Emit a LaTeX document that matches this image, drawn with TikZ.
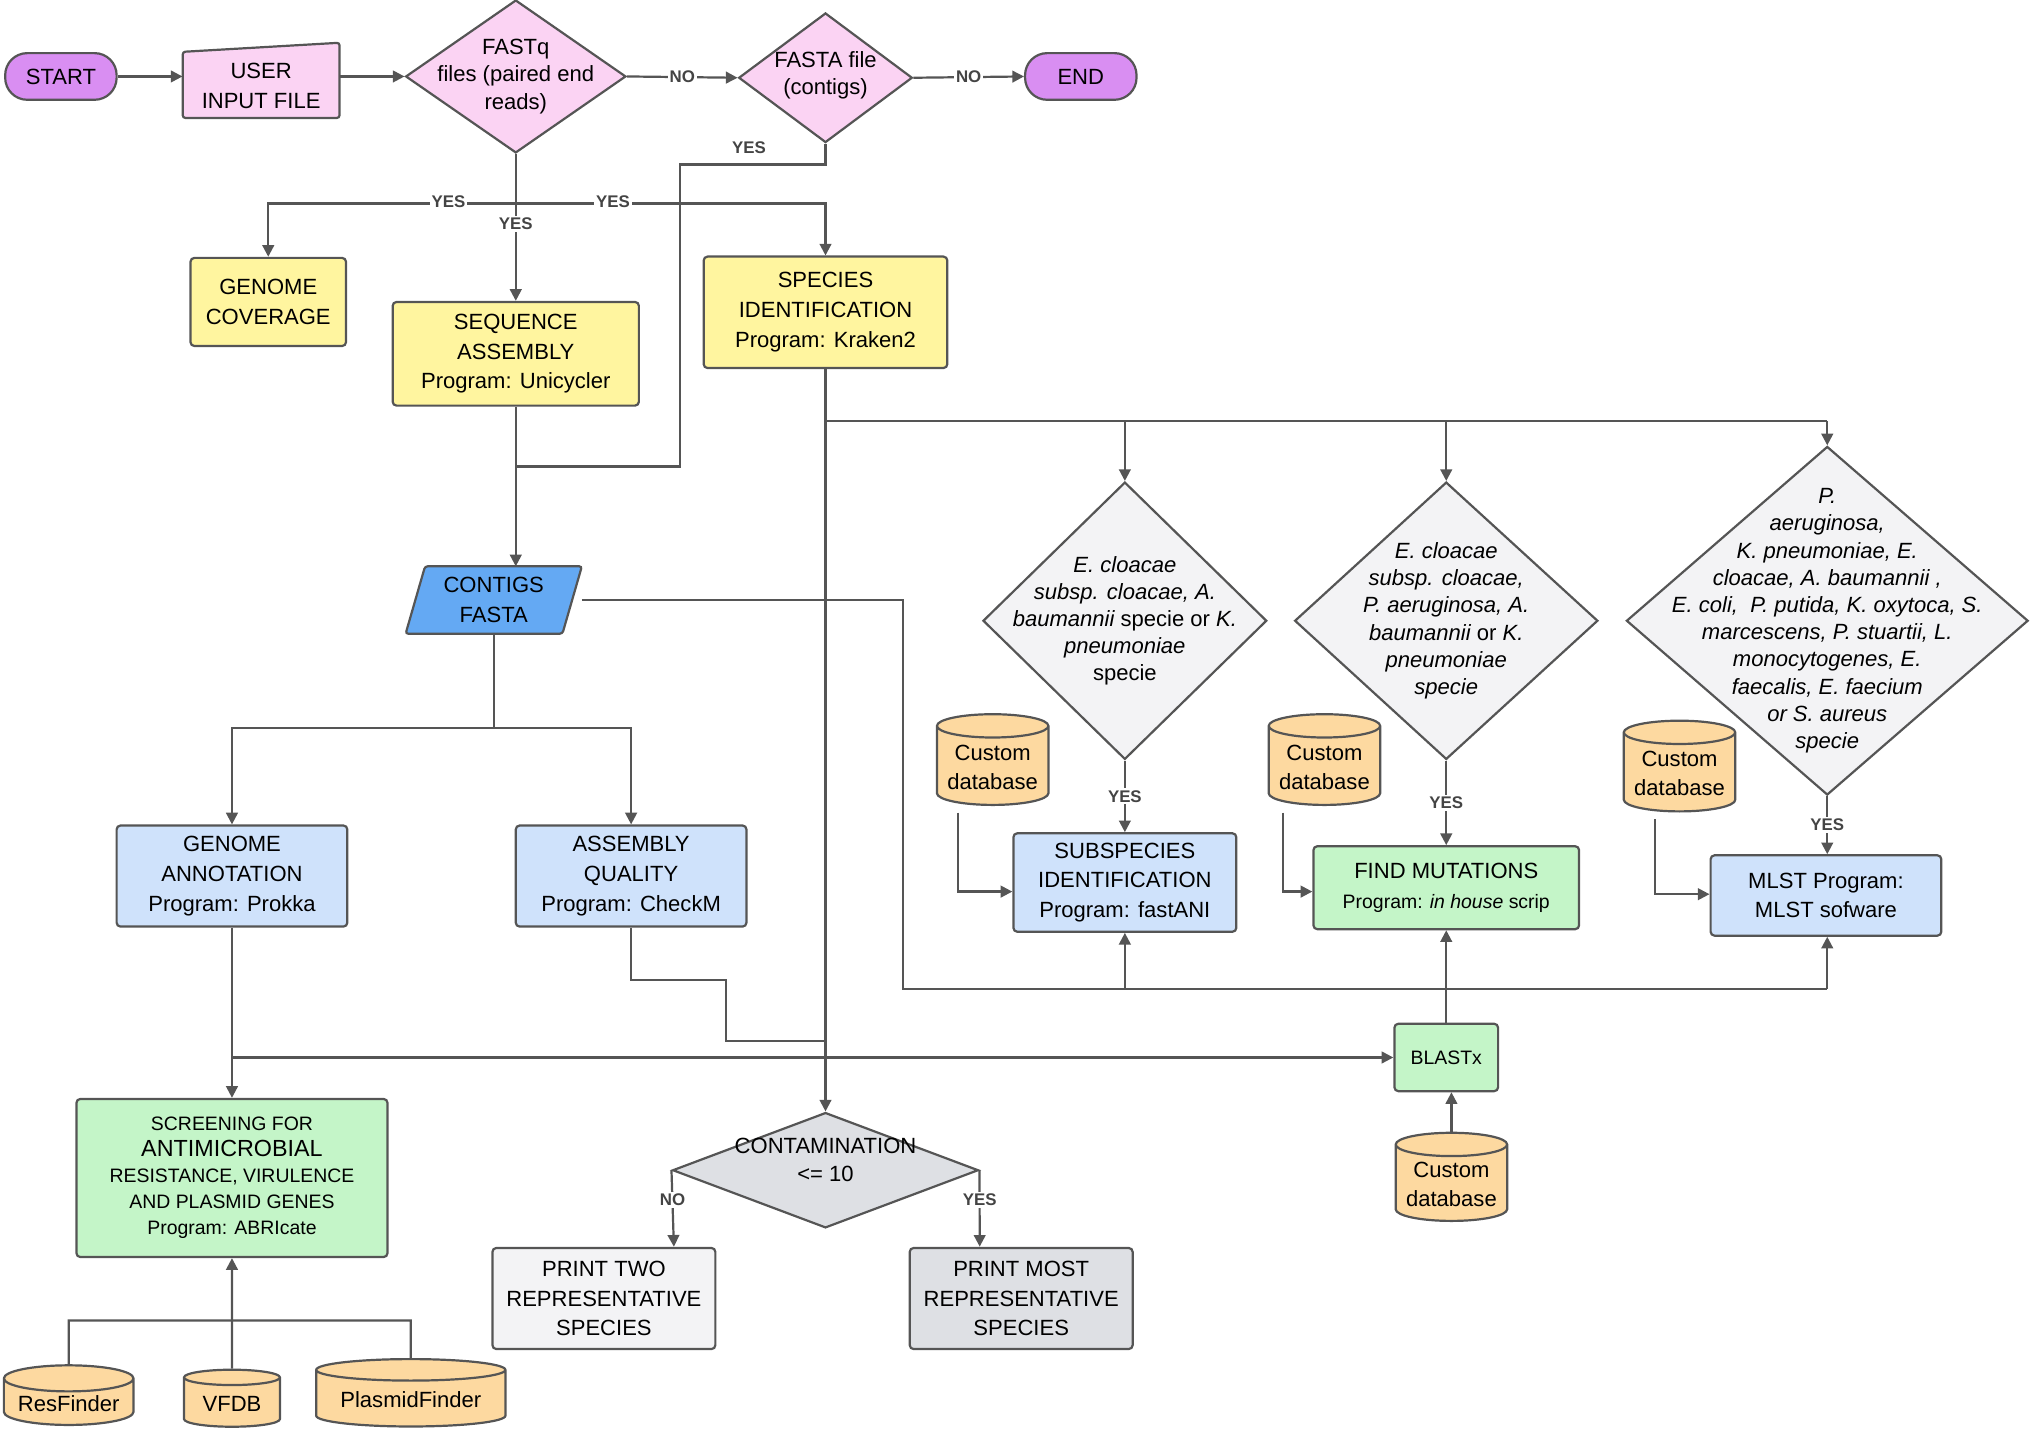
\documentclass[tikz,border=0pt]{standalone}
\usepackage{fontspec}
\setmainfont{Liberation Sans}
\usetikzlibrary{shapes.geometric,arrows.meta}
\definecolor{lc}{HTML}{555555}
\definecolor{pur}{HTML}{D98EF2}
\definecolor{pink}{HTML}{FBD3F3}
\definecolor{yel}{HTML}{FFF59F}
\definecolor{lblue}{HTML}{CFE2FB}
\definecolor{dblue}{HTML}{64A9F3}
\definecolor{grn}{HTML}{C4F5C8}
\definecolor{org}{HTML}{FDD9A0}
\definecolor{lgray}{HTML}{F3F3F5}
\definecolor{mgray}{HTML}{DEE0E4}
\tikzset{
 ln/.style={draw=lc,line width=1.7pt},
 arr/.style={ln,-{Triangle[length=9pt,width=9pt]}},
 box/.style={ln,rounded corners=3pt,align=center,inner sep=2pt,font=\fontsize{17}{23}\selectfont},
 dia/.style={ln,diamond,inner sep=0pt},
 dtxt/.style={align=center,font=\fontsize{17}{21}\selectfont},
 db/.style={ln,cylinder,shape border rotate=90,aspect=0.25,fill=org,align=center,font=\fontsize{17}{22}\selectfont,inner sep=1pt},
 lab/.style={fill=white,inner sep=1.5pt,font=\bfseries\fontsize{13}{15}\selectfont,text=lc!80!black},
}
\begin{document}
\begin{tikzpicture}[x=1pt,y=-1pt]
\useasboundingbox (0,0) rectangle (1568,1110);
% top row
\node[box,rounded corners=17pt,fill=pur,minimum width=86,minimum height=36] (start) at (47,59) {START};
\node[box,rounded corners=17pt,fill=pur,minimum width=86,minimum height=36] (end) at (834,59) {END};
\draw[ln,fill=pink,rounded corners=2pt] (141,40) -- (262,33) -- (262,91) -- (141,91) -- cycle;
\node[align=center,font=\fontsize{17}{23}\selectfont,minimum width=121,minimum height=58] (user) at (201.5,66) {USER\\INPUT FILE};
\node[dia,fill=pink,minimum width=170,minimum height=118] (fq) at (398,59) {};
\node[dtxt] at (398,59) {FASTq\\files (paired end\\reads)};
\node[dia,fill=pink,minimum width=134,minimum height=100] (fa) at (637,60) {};
\node[dtxt] at (637,58) {FASTA file\\(contigs)};
\draw[arr] (start) -- (user.west|-start);
\draw[arr] (262,59) -- (fq.west);
\draw[arr] (fq.east) -- node[lab]{NO} (fa.west);
\draw[arr] (fa.east) -- node[lab]{NO} (end.west);
% second row
\node[box,fill=yel,minimum width=120,minimum height=68] (gc) at (207,233) {GENOME\\COVERAGE};
\node[box,fill=yel,minimum width=190,minimum height=80] (sa) at (398,273) {SEQUENCE\\ASSEMBLY\\Program: Unicycler};
\node[box,fill=yel,minimum width=188,minimum height=86] (si) at (637,241) {SPECIES\\IDENTIFICATION\\Program: Kraken2};
\coordinate (j1) at (398,157);
\draw[ln] (fq.south) -- (j1);
\draw[arr] (j1) -| (gc.north);
\draw[arr] (j1) -| (si.north);
\draw[arr] (j1) -- (sa.north);
\node[lab] at (346,156) {YES};
\node[lab] at (473,156) {YES};
\node[lab] at (398,173) {YES};
% contigs
\draw[ln,fill=dblue,rounded corners=2pt] (328,437) -- (449,437) -- (434,489) -- (313,489) -- cycle;
\node[align=center,font=\fontsize{17}{23}\selectfont,minimum width=136,minimum height=52] (cf) at (381,463) {CONTIGS\\FASTA};
\draw[arr] (sa.south) -- (398,437);
\draw[ln] (fa.south) -- (637,127) -- (525,127) -- (525,360) -- (398,360);
\node[lab] at (578,114) {YES};
% diamonds
\node[dia,fill=lgray,minimum width=219,minimum height=214] (d1) at (868,479) {};
\node[dtxt] at (868,479) {\itshape E. cloacae\\\itshape subsp. cloacae, A.\\\itshape baumannii \upshape specie or \itshape K.\\\itshape pneumoniae\\specie};
\node[dia,fill=lgray,minimum width=234,minimum height=214] (d2) at (1116,479) {};
\node[dtxt] at (1116,479) {\itshape E. cloacae\\\itshape subsp. cloacae,\\\itshape P. aeruginosa, A.\\\itshape baumannii \upshape or \itshape K.\\\itshape pneumoniae\\\itshape specie};
\node[dia,fill=lgray,minimum width=310,minimum height=269] (d3) at (1410,479) {};
\node[dtxt] at (1410,479) {\itshape P.\\\itshape aeruginosa,\\\itshape K. pneumoniae, E.\\\itshape cloacae, A. baumannii ,\\\itshape E. coli,\ \ P. putida, K. oxytoca, S.\\\itshape marcescens, P. stuartii, L.\\\itshape monocytogenes, E.\\\itshape faecalis, E. faecium\\\itshape or S. aureus\\\itshape specie};
\coordinate (j2) at (637,325);
\draw[ln] (si.south) -- (637,828);
\draw[ln] (j2) -- (1410,325);
\draw[arr] (868,325) -- (d1.north);
\draw[arr] (1116,325) -- (d2.north);
\draw[arr] (1410,325) -- (d3.north);
% results
\node[box,fill=lblue,minimum width=172,minimum height=76] (sub) at (868,681) {SUBSPECIES\\IDENTIFICATION\\Program: fastANI};
\node[box,fill=grn,minimum width=205,minimum height=64] (fm) at (1116,685) {FIND MUTATIONS\\{\fontsize{15}{19}\selectfont Program: \itshape in house \upshape scrip}};
\node[box,fill=lblue,minimum width=178,minimum height=62] (mlst) at (1409,691) {MLST Program:\\MLST sofware};
\draw[arr] (d1.south) -- node[lab]{YES} (sub.north);
\draw[arr] (d2.south) -- node[lab]{YES} (fm.north);
\draw[arr] (d3.south) -- node[lab]{YES} (mlst.north-|d3.south);
\node[db,minimum width=86,minimum height=70] (c1) at (766,592) {Custom\\database};
\node[db,minimum width=86,minimum height=70] (c2) at (1022,592) {Custom\\database};
\node[db,minimum width=86,minimum height=70] (c3) at (1296,597) {Custom\\database};
\draw[arr] (739,627) -- (739,688) -- (sub.west|-739,688);
\draw[arr] (990,627) -- (990,688) -- (fm.west|-990,688);
\draw[arr] (1277,632) -- (1277,690) -- (mlst.west|-1277,690);
% contigs branches
\draw[ln] (449,463) -- (697,463) -- (697,763) -- (1410,763);
\draw[arr] (868,763) -- (sub.south);
\draw[arr] (1410,763) -- (mlst.south-|1410,763);
\node[box,fill=lblue,minimum width=178,minimum height=78] (ga) at (179,676) {GENOME\\ANNOTATION\\Program: Prokka};
\node[box,fill=lblue,minimum width=178,minimum height=78] (aq) at (487,676) {ASSEMBLY\\QUALITY\\Program: CheckM};
\draw[ln] (cf.south) -- (381,562);
\draw[arr] (381,562) -| (ga.north);
\draw[arr] (381,562) -| (aq.north);
\node[box,fill=grn,minimum width=80,minimum height=52,font=\fontsize{15}{19}\selectfont] (bx) at (1116,816) {BLASTx};
\node[db,minimum width=86,minimum height=68] (c4) at (1120,914) {Custom\\database};
\draw[arr] (c4.north) -- (bx.south-|c4.north);
\draw[arr] (bx.north) -- (fm.south);
\node[box,fill=grn,minimum width=240,minimum height=122,font=\fontsize{15}{20}\selectfont] (scr) at (179,909) {SCREENING FOR\\{\fontsize{18}{20}\selectfont ANTIMICROBIAL}\\RESISTANCE, VIRULENCE\\AND PLASMID GENES\\Program: ABRIcate};
\draw[arr] (ga.south) -- (scr.north);
\draw[arr] (179,816) -- (bx.west);
\draw[ln] (aq.south) -- (487,756) -- (560,756) -- (560,803) -- (637,803);
% contamination
\node[dia,fill=mgray,minimum width=236,minimum height=89] (ct) at (637,903) {};
\node[dtxt] at (637,895) {CONTAMINATION\\<= 10};
\draw[arr] (637,790) -- (ct.north);
\node[box,fill=lgray,minimum width=172,minimum height=78] (p2) at (466,1002) {PRINT TWO\\REPRESENTATIVE\\SPECIES};
\node[box,fill=mgray,minimum width=172,minimum height=78] (pm) at (788,1002) {PRINT MOST\\REPRESENTATIVE\\SPECIES};
\draw[arr] (ct.west) -- (520,962);
\draw[arr] (ct.east) -- (756,962);
\node[lab] at (519,926) {NO};
\node[lab] at (756,926) {YES};
% databases
\node[db,minimum width=100,minimum height=46] (rf) at (53,1083) {ResFinder};
\node[db,minimum width=74,minimum height=44] (vf) at (179,1083) {VFDB};
\node[db,minimum width=146,minimum height=52,aspect=0.15] (pf) at (317,1080) {PlasmidFinder};
\draw[arr] (vf.north) -- (scr.south);
\draw[ln] (rf.north) -- (53,1019) -- (317,1019) -- (pf.north);
\end{tikzpicture}
\end{document}
